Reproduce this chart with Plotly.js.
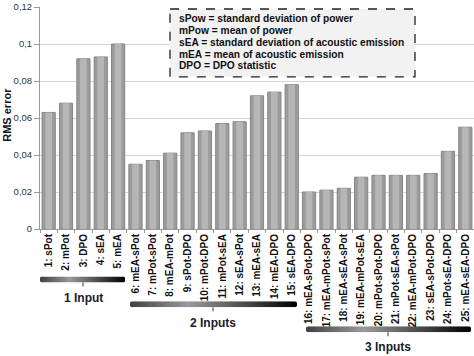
<!DOCTYPE html>
<html>
<head>
<meta charset="utf-8">
<script src="https://cdn.plot.ly/plotly-3.0.1.min.js"></script>
<style>html,body{margin:0;padding:0;background:#fff}#chart{width:474px;height:356px}</style>
</head>
<body>
<div id="chart"></div>
<script>
var categories = ["1: sPot","2: mPot","3: DPO","4: sEA","5: mEA",
  "6: mEA-sPot","7: mPot-sPot","8: mEA-mPot","9: sPot-DPO","10: mPot-DPO",
  "11: mPot-sEA","12: sEA-sPot","13: mEA-sEA","14: mEA-DPO","15: sEA-DPO",
  "16: mEA-sPot-DPO","17: mEA-mPot-sPot","18: mEA-sEA-sPot","19: mEA-mPot-sEA","20: mPot-sPot-DPO",
  "21: mPot-sEA-sPot","22: mEA-mPot-DPO","23: sEA-sPot-DPO","24: mPot-sEA-DPO","25: mEA-sEA-DPO"];
var rmsError = [0.063,0.068,0.092,0.093,0.100,
  0.035,0.037,0.041,0.052,0.053,
  0.057,0.058,0.072,0.074,0.078,
  0.020,0.021,0.022,0.028,0.029,
  0.029,0.029,0.030,0.042,0.055];
var yTickVals = [0,0.02,0.04,0.06,0.08,0.1,0.12];
var yTickText = ["0","0,02","0,04","0,06","0,08","0,1","0,12"];
var groupLabels = ["1 Input","2 Inputs","3 Inputs"];
var legendLines = ["sPow = standard deviation of power","mPow = mean of power",
  "sEA = standard deviation of acoustic emission","mEA = mean of acoustic emission","DPO = DPO statistic"];

var W = 434, H = 222.5, L = 40, T = 7;
function px(x){ return (x - L) / W; }
function py(y){ return (T + H - y) / H; }

function gradImg(){
  var svg = '<svg xmlns="http://www.w3.org/2000/svg" width="200" height="10" preserveAspectRatio="none" viewBox="0 0 200 10">' +
    '<defs><linearGradient id="g" x1="0" x2="1" y1="0" y2="0">' +
    '<stop offset="0" stop-color="#404040"/><stop offset="0.35" stop-color="#9a9a9a"/><stop offset="1" stop-color="#000"/>' +
    '</linearGradient></defs><rect x="0" y="0" width="200" height="10" rx="3" ry="3" fill="url(#g)"/></svg>';
  return 'data:image/svg+xml;charset=utf-8,' + encodeURIComponent(svg);
}

var groups = [
  {x0:40, x1:125, y:277, cx:83, ty:299},
  {x0:130, x1:297, y:302, cx:213, ty:324},
  {x0:306, x1:471, y:327, cx:388, ty:348}
];
var images = [], shapes = [], annotations = [];
groups.forEach(function(g, i){
  images.push({source: gradImg(), xref:'paper', yref:'paper', x: px(g.x0), y: py(g.y),
    sizex: (g.x1 - g.x0)/W, sizey: 6/H, sizing:'stretch', xanchor:'left', yanchor:'top', layer:'above'});
  shapes.push({type:'line', xref:'paper', yref:'paper', x0:px(g.cx), x1:px(g.cx), y0:py(g.y+6), y1:py(g.y+10),
    line:{color:'#333', width:1}});
  annotations.push({text:'<b>'+groupLabels[i]+'</b>', xref:'paper', yref:'paper', x:px(g.cx), y:py(g.ty),
    xanchor:'center', yanchor:'middle', showarrow:false, font:{family:'Arial, Liberation Sans', size:12, color:'#1a1a2a'}});
});

shapes.push({type:'rect', xref:'paper', yref:'paper', x0:px(170), x1:px(415), y0:py(9), y1:py(77),
  fillcolor:'#f2f2f2', line:{color:'#222', width:1.3, dash:'dash'}, layer:'above'});
var legendY = [19, 31, 43, 55, 66];
legendLines.forEach(function(s, i){
  annotations.push({text:'<b>'+s+'</b>', xref:'paper', yref:'paper', x:px(177), y:py(legendY[i]),
    xanchor:'left', yanchor:'middle', align:'left', showarrow:false,
    font:{family:'Arial, Liberation Sans', size:10.2, color:'#111'}});
});
annotations.push({text:'<b>RMS error</b>', xref:'paper', yref:'paper', x:px(7), y:py(115),
  xanchor:'center', yanchor:'middle', textangle:-90, showarrow:false,
  font:{family:'Arial, Liberation Sans', size:11, color:'#111'}});

var traces = [
  {type:'bar', x:categories, y:rmsError, width:0.76, marker:{color:'#9c9c9c', line:{color:'#858585', width:1}}, hoverinfo:'x+y'},
  {type:'bar', x:categories, y:rmsError, width:0.38, marker:{color:'#b6b6b6', line:{width:0}}, hoverinfo:'skip'}
];

var layout = {
  width:474, height:356, margin:{l:L, r:0, t:T, b:356 - T - H},
  paper_bgcolor:'#fff', plot_bgcolor:'#fff', showlegend:false, barmode:'overlay',
  font:{family:'Arial, Liberation Sans', color:'#222'},
  xaxis:{type:'category', tickangle:-90, tickfont:{size:10, color:'#111', family:'Arial, Liberation Sans'},
    ticks:'outside', tickson:'boundaries', ticklen:3, tickcolor:'#999', showline:true, linecolor:'#999',
    showgrid:false, fixedrange:true,
    tickvals:categories, ticktext:categories.map(function(c){return '<b>'+c+'</b>';})},
  yaxis:{range:[0,0.12], tickvals:yTickVals, ticktext:yTickText, showgrid:true, gridcolor:'#d4d4d4',
    showline:true, linecolor:'#999', ticks:'outside', ticklen:5, tickcolor:'#999',
    tickfont:{size:9.5, color:'#333'}, zeroline:false, fixedrange:true},
  images:images, shapes:shapes, annotations:annotations
};

Plotly.newPlot('chart', traces, layout, {displayModeBar:false, staticPlot:true});
</script>
</body>
</html>
